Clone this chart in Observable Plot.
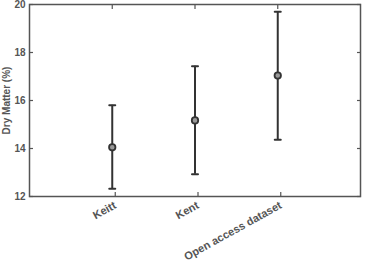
<!DOCTYPE html>
<html>
<head>
<meta charset="utf-8">
<script src="https://cdn.jsdelivr.net/npm/d3@7"></script>
<script src="https://cdn.jsdelivr.net/npm/@observablehq/plot@0.6"></script>
<style>
html,body{margin:0;padding:0;background:#fff;}
</style>
</head>
<body>
<div id="chart"></div>
<script>
const categories = ["Keitt", "Kent", "Open access dataset"];
const means = [14.05, 15.17, 17.04];
const lower = [12.32, 12.93, 14.36];
const upper = [15.80, 17.43, 19.70];
const yTicks = [12, 14, 16, 18, 20];

const data = categories.map((c, i) => ({pos: i + 1, cat: c, mean: means[i], lo: lower[i], hi: upper[i]}));
const lineShape = {draw(ctx, l) { ctx.moveTo(0, 0); ctx.lineTo(0, -l); }};
const ink = "#333";
const font = "Liberation Sans, Arial, sans-serif";

const chart = Plot.plot({
  width: 365,
  height: 263,
  marginLeft: 29,
  marginRight: 5,
  marginTop: 4,
  marginBottom: 67,
  style: {fontFamily: font, fontSize: "10px", fontWeight: "bold", color: "#555", background: "#fff"},
  x: {domain: [0, 4]},
  y: {domain: [12, 20]},
  marks: [
    Plot.frame({stroke: "#555", strokeWidth: 1.5}),
    Plot.axisY({anchor: "left", ticks: yTicks, tickSize: -4, tickPadding: 8, stroke: "#555", strokeWidth: 1.2, label: "Dry Matter (%)", labelAnchor: "center", labelArrow: "none", labelOffset: 27}),
    Plot.axisY({anchor: "right", ticks: yTicks, tickSize: -4, tickFormat: () => "", stroke: "#555", strokeWidth: 1.2, label: null}),
    Plot.axisX({anchor: "bottom", ticks: data.map(d => d.pos), tickFormat: p => categories[p - 1], tickSize: -4, tickPadding: 12, tickRotate: -29, fontSize: 11, dx: 3, stroke: "#555", strokeWidth: 1.2, label: null}),
    Plot.axisX({anchor: "top", ticks: data.map(d => d.pos), tickFormat: () => "", tickSize: -4, stroke: "#555", strokeWidth: 1.2, label: null}),
    Plot.ruleX(data, {x: "pos", y1: "lo", y2: "hi", stroke: ink, strokeWidth: 2}),
    Plot.vector(data, {x: "pos", y: "hi", rotate: 90, length: 6, anchor: "middle", shape: lineShape, stroke: ink, strokeWidth: 2}),
    Plot.vector(data, {x: "pos", y: "lo", rotate: 90, length: 6, anchor: "middle", shape: lineShape, stroke: ink, strokeWidth: 2}),
    Plot.dot(data, {x: "pos", y: "mean", r: 3.2, stroke: ink, strokeWidth: 1.8, fill: "#999"})
  ]
});
document.getElementById("chart").appendChild(chart);
</script>
</body>
</html>
